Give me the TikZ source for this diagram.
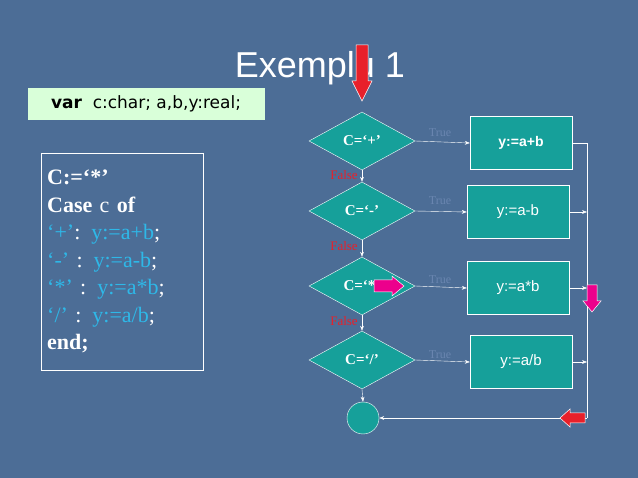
\documentclass[tikz,border=0pt]{standalone}
\usepackage{fontspec}
\setmainfont{Liberation Serif}
\newfontfamily\arial{Liberation Sans}
\newfontfamily\tah{DejaVu Sans}
\usetikzlibrary{shapes.geometric,arrows.meta}
\definecolor{bg}{HTML}{4C6D96}
\definecolor{teal}{HTML}{16A09A}
\definecolor{cy}{HTML}{2EB8E8}
\definecolor{fred}{HTML}{E8202A}
\definecolor{tru}{HTML}{6A86B0}
\tikzset{
 dia/.style={diamond,draw=white,fill=teal,minimum width=106pt,minimum height=58pt,aspect=1.8,inner sep=0pt,font=\bfseries\fontsize{15}{15}\selectfont,text=white},
 act/.style={draw=white,fill=teal,minimum width=102pt,minimum height=53pt,font=\arial\fontsize{15}{15}\selectfont,text=white},
 con/.style={draw=white,-{Stealth[length=5pt]}},
 fl/.style={text=fred,font=\fontsize{13}{13}\selectfont},
 tr/.style={text=tru,font=\fontsize{12}{12}\selectfont},
 bigarrow/.style={draw=white,line width=0.5pt}
}
\newcommand{\myarrow}[7]{%
  \path[bigarrow,fill=#7,shift={(#1,#2)},rotate=#3]
   (0,-#5) -- (#4-#6,-#5) -- (#4-#6,-#5-4) -- (#4,0) -- (#4-#6,#5+4) -- (#4-#6,#5) -- (0,#5) -- cycle;}
\begin{document}
\begin{tikzpicture}[x=1pt,y=-1pt]
\fill[bg] (0,0) rectangle (638,478);
\useasboundingbox (0,0) rectangle (638,478);
\node[font=\arial\fontsize{36}{36}\selectfont,text=white] (title) at (320,68) {Exemplu 1};
\node[fill=green!15!white,minimum width=237pt,minimum height=32pt,font=\tah\fontsize{17}{17}\selectfont] (var) at (146,104) {\textbf{var}\ \ c:char; a,b,y:real;};
\node[draw=white,minimum width=162pt,minimum height=217pt,anchor=north west,align=left,inner sep=6pt,text=white,font=\fontsize{22}{27.5}\selectfont,text width=150pt] (code) at (41,153) {%
\textbf{C:=‘*’}\\ \textbf{Case} c \textbf{of}\\
\textcolor{cy}{‘+’}: \textcolor{cy}{y:=a+b};\\
\textcolor{cy}{‘-’} : \textcolor{cy}{y:=a-b};\\
\textcolor{cy}{‘*’} : \textcolor{cy}{y:=a*b};\\
\textcolor{cy}{‘/’} : \textcolor{cy}{y:=a/b};\\
\textbf{end;}};
\node[dia] (d1) at (362,141) {C=‘+’};
\node[dia] (d2) at (362,211) {C=‘-’};
\node[dia] (d3) at (362,286) {C=‘*’};
\node[dia] (d4) at (362,360) {C=‘/’};
\node[act,font=\arial\bfseries\fontsize{14}{14}\selectfont] (b1) at (521,143) {y:=a+b};
\node[act] (b2) at (518,212) {y:=a-b};
\node[act] (b3) at (518,288) {y:=a*b};
\node[act] (b4) at (521,362) {y:=a/b};
\node[circle,draw=white,fill=teal,minimum size=32pt] (end) at (363,418) {};
\coordinate (r1) at (587,143);
\coordinate (r2) at (587,212);
\coordinate (r3) at (587,288);
\coordinate (r4) at (587,362);
\coordinate (r5) at (587,418);
\foreach \i in {1,2,3,4}{\draw[con] (d\i.east) -- (b\i.west);}
\draw[con] (d1.south) -- (d2.north);
\draw[con] (d2.south) -- (d3.north);
\draw[con] (d3.south) -- (d4.north);
\draw[con] (d4.south) -- (end.north);
\draw[white] (b1.east) -- (r1) -- (r5);
\draw[con] (r5) -- (end.east);
\foreach \i in {2,3,4}{\draw[con] (b\i.east) -- (r\i);}
\foreach \y/\n in {133/a,201/b,280/c,355/d}{\node[tr] (t\n) at (440,\y) {True};}
\foreach \y/\n in {175/a,246/b,321/c}{\node[fl] (f\n) at (344,\y) {False};}
\myarrow{362}{45}{-90}{56}{6}{20}{fred}
\myarrow{374}{286}{0}{30}{6}{12}{magenta}
\myarrow{592}{285}{-90}{27}{5}{11}{magenta}
\myarrow{585}{418}{180}{25}{5}{10}{fred}
\end{tikzpicture}
\end{document}
